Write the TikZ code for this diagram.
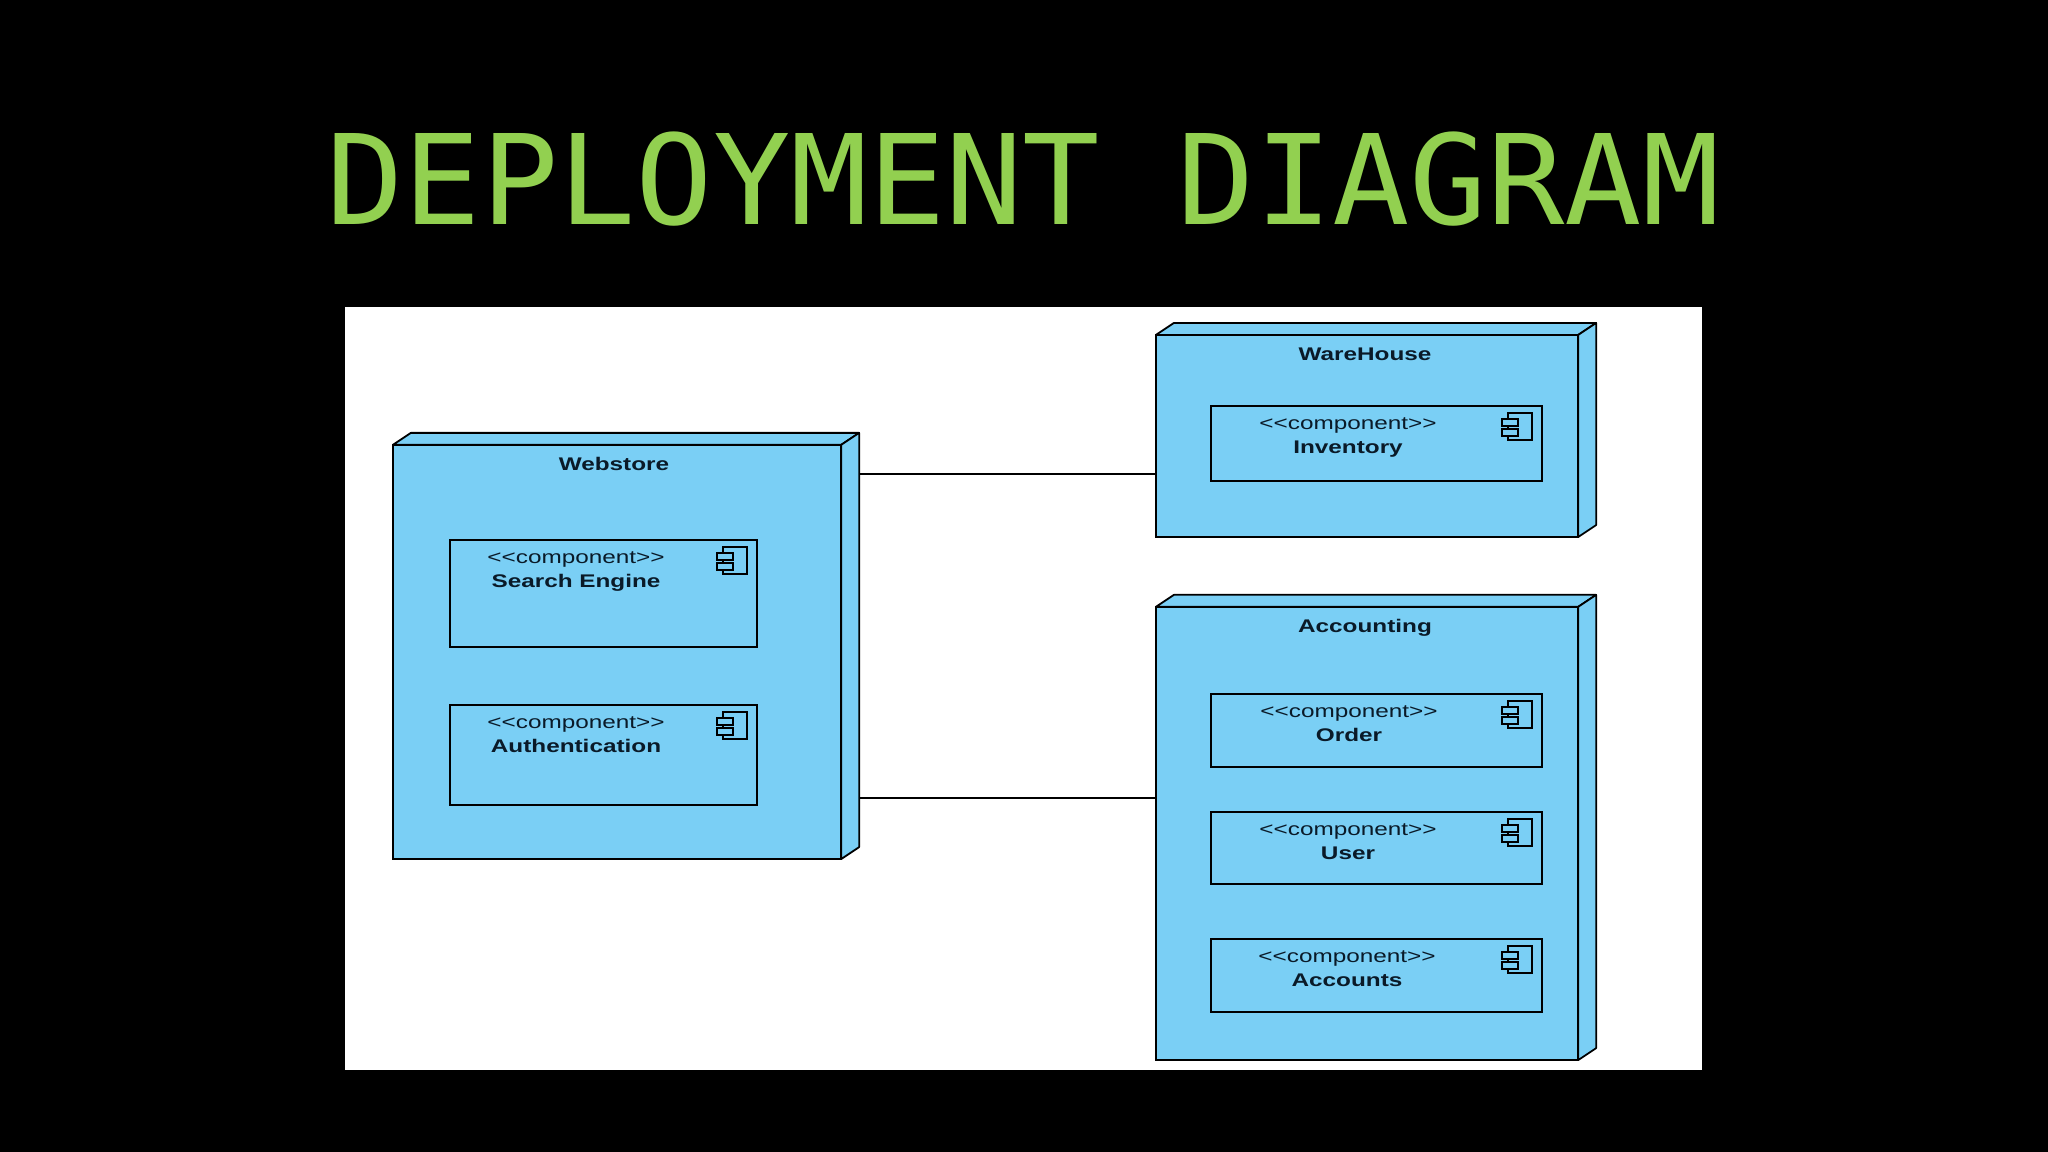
\documentclass[tikz,border=0pt]{standalone}
\usepackage{fontspec}
\usetikzlibrary{calc,positioning}
\setmainfont{Liberation Sans}
\newfontfamily\titlefont[FakeStretch=1.03]{DejaVu Sans Mono}
\newfontfamily\wideplain[FakeStretch=1.33]{Liberation Sans}
\newfontfamily\widebold[FakeStretch=1.33]{Liberation Sans Bold}
\definecolor{slidegreen}{HTML}{92D050}
\definecolor{nodeblue}{HTML}{7ACFF5}
\definecolor{inkdark}{HTML}{0A1A28}

\begin{document}
\begin{tikzpicture}[
    x=0.01cm, y=-0.01cm,
    device/.style={draw=black, fill=nodeblue, line width=0.5pt, inner sep=0pt, outer sep=0pt},
    face/.style={draw=black, fill=nodeblue, line width=0.5pt, line join=round},
    compbox/.style={draw=black, fill=nodeblue, line width=0.55pt, inner sep=0pt, outer sep=0pt},
    devname/.style={font=\widebold\fontsize{5.2}{6}\selectfont, text=inkdark, inner sep=0pt, anchor=base},
    stereo/.style={font=\wideplain\fontsize{5.2}{6}\selectfont, text=inkdark, inner sep=0pt, anchor=base},
    icon/.style={draw=black, fill=nodeblue, line width=0.45pt},
    link/.style={draw=black, line width=0.45pt}
]

% slide background
\fill[black] (0,0) rectangle (2048,1152);
\fill[white] (345,307) rectangle (1702,1070);

% title
\node[anchor=base, inner sep=0pt, text=slidegreen, font=\titlefont\fontsize{35.5}{40}\selectfont] (title) at (1023,225) {DEPLOYMENT DIAGRAM};

% devices
\node[device, minimum width=4.48cm, minimum height=4.14cm] (webstore) at (617,652) {};
\node[device, minimum width=4.22cm, minimum height=2.02cm] (warehouse) at (1367,436) {};
\node[device, minimum width=4.22cm, minimum height=4.53cm] (accounting) at (1367,833.5) {};

% top and side faces
\foreach \dev in {webstore,warehouse,accounting} {
    \draw[face] (\dev.north west) -- ++(18,-12) -- ($(\dev.north east)+(18,-12)$) -- (\dev.north east) -- cycle;
    \draw[face] (\dev.north east) -- ++(18,-12) -- ($(\dev.south east)+(18,-12)$) -- (\dev.south east) -- cycle;
}

% device names
\node[devname] (webstorename) at (614,471) {Webstore};
\node[devname] (warehousename) at (1365,361) {WareHouse};
\node[devname] (accountingname) at (1365,633) {Accounting};

% components
\foreach \comp/\cx/\cy/\bw/\bh/\lx/\compname in {
    search/450/540/307/107/126/Search Engine,
    auth/450/705/307/100/126/Authentication,
    inventory/1211/406/331/75/137/Inventory,
    order/1211/694/331/73/138/Order,
    user/1211/812/331/72/137/User,
    accounts/1211/939/331/73/136/Accounts} {
    \node[compbox, anchor=north west, minimum width=\bw*0.01cm, minimum height=\bh*0.01cm] (\comp) at (\cx,\cy) {};
    \node[stereo] (\comp-st) at ($(\comp.north west)+(\lx,23.5)$) {<{}<component>{}>};
    \node[devname] (\comp-name) at ($(\comp.north west)+(\lx,47.5)$) {\compname};
    % component icon
    \draw[icon] ($(\comp.north east)+(-34,7)$) rectangle ($(\comp.north east)+(-10,34)$);
    \draw[icon] ($(\comp.north east)+(-40,13)$) rectangle ($(\comp.north east)+(-24,20)$);
    \draw[icon] ($(\comp.north east)+(-40,23)$) rectangle ($(\comp.north east)+(-24,30)$);
}

% connectors
\coordinate (webstoreA) at ($(webstore.north east)+(18,29)$);
\coordinate (webstoreB) at ($(webstore.north east)+(18,353)$);
\draw[link] (webstoreA) -- (webstoreA -| warehouse.west);
\draw[link] (webstoreB) -- (webstoreB -| accounting.west);

\end{tikzpicture}
\end{document}
